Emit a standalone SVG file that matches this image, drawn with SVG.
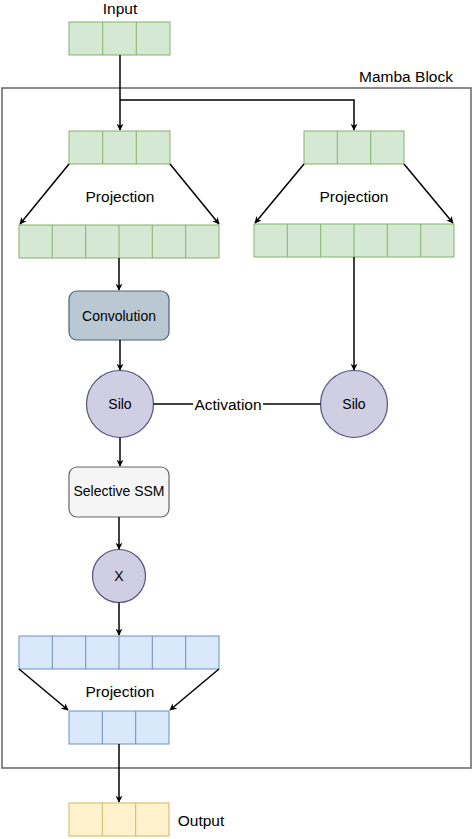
<svg xmlns="http://www.w3.org/2000/svg" width="474" height="839" viewBox="0 0 474 839">
<style>
text{font-family:"Liberation Sans",Arial,sans-serif;fill:#000;text-anchor:middle}
.lbl{font-size:15.5px}
.in{font-size:14px}
.g{fill:#d5e8d4;stroke:#82b366;stroke-width:1}
.b{fill:#dae8fc;stroke:#6c8ebf;stroke-width:1}
.y{fill:#fff2cc;stroke:#d6b656;stroke-width:1}
.c{stroke:#000;stroke-width:1.5;fill:none}
.circ{fill:#d0cee2;stroke:#56517e;stroke-width:1.2}
</style>
<defs>
<marker id="ah" viewBox="0 0 10 10" refX="9" refY="5" markerWidth="7" markerHeight="7" orient="auto" markerUnits="userSpaceOnUse">
<path d="M0,0 L10,5 L0,10 L3,5 Z" fill="#000"/>
</marker>
</defs>
<rect id="mamba-block" x="2" y="88" width="469" height="680" fill="none" stroke="#666" stroke-width="1.5"/>
<text class="lbl" x="406" y="82">Mamba Block</text>
<g id="input">
<rect class="g" x="69" y="22" width="101" height="33"/>
<line x1="102.7" y1="22" x2="102.7" y2="55" stroke="#82b366"/>
<line x1="136.3" y1="22" x2="136.3" y2="55" stroke="#82b366"/>
<text class="lbl" x="120" y="14">Input</text>
</g>
<g id="proj-left-in">
<rect class="g" x="69" y="131" width="101" height="33"/>
<line x1="102.7" y1="131" x2="102.7" y2="164" stroke="#82b366"/>
<line x1="136.3" y1="131" x2="136.3" y2="164" stroke="#82b366"/>
</g>
<g id="proj-right-in">
<rect class="g" x="304" y="131" width="100" height="33"/>
<line x1="337.3" y1="131" x2="337.3" y2="164" stroke="#82b366"/>
<line x1="370.7" y1="131" x2="370.7" y2="164" stroke="#82b366"/>
</g>
<g id="proj-left-out">
<rect class="g" x="19" y="225" width="200" height="33"/>
<path d="M52.3,225V258M85.7,225V258M119,225V258M152.3,225V258M185.7,225V258" stroke="#82b366"/>
</g>
<g id="proj-right-out">
<rect class="g" x="254" y="224" width="200" height="33"/>
<path d="M287.3,224V257M320.7,224V257M354,224V257M387.3,224V257M420.7,224V257" stroke="#82b366"/>
</g>
<g id="convolution">
<rect x="69" y="291" width="100" height="49" rx="8" fill="#bac8d3" stroke="#4f6375" stroke-width="1.2"/>
<text class="in" x="119" y="321">Convolution</text>
</g>
<g id="silo-left">
<circle class="circ" cx="120" cy="404" r="33.5"/>
<text class="in" x="120" y="409">Silo</text>
</g>
<g id="silo-right">
<circle class="circ" cx="354" cy="404" r="33.5"/>
<text class="in" x="354" y="409">Silo</text>
</g>
<g id="selective-ssm">
<rect x="69" y="467" width="100" height="50" rx="8" fill="#f5f5f5" stroke="#666" stroke-width="1.2"/>
<text class="in" x="119" y="496">Selective SSM</text>
</g>
<g id="multiply">
<circle class="circ" cx="119" cy="576" r="26.5"/>
<text class="in" x="119" y="581">X</text>
</g>
<g id="proj-bottom-in">
<rect class="b" x="19" y="636" width="200" height="33"/>
<path d="M52.3,636V669M85.7,636V669M119,636V669M152.3,636V669M185.7,636V669" stroke="#6c8ebf"/>
</g>
<g id="proj-bottom-out">
<rect class="b" x="69" y="711" width="100" height="33"/>
<path d="M102.3,711V744M135.7,711V744" stroke="#6c8ebf"/>
</g>
<g id="output">
<rect class="y" x="69" y="803" width="100" height="33"/>
<path d="M102.3,803V836M135.7,803V836" stroke="#d6b656"/>
<text class="lbl" x="201" y="826">Output</text>
</g>
<g id="connectors">
<path class="c" d="M120,55V130" marker-end="url(#ah)"/>
<path class="c" d="M120,100H354V130" marker-end="url(#ah)"/>
<path class="c" d="M69,164L20,224" marker-end="url(#ah)"/>
<path class="c" d="M170,164L219,224" marker-end="url(#ah)"/>
<path class="c" d="M304,164L255,223" marker-end="url(#ah)"/>
<path class="c" d="M404,164L453,223" marker-end="url(#ah)"/>
<path class="c" d="M119,258V290" marker-end="url(#ah)"/>
<path class="c" d="M354,257V370" marker-end="url(#ah)"/>
<path class="c" d="M120,340V370" marker-end="url(#ah)"/>
<path class="c" d="M153.5,404H320.5"/>
<path class="c" d="M120,437.5V466" marker-end="url(#ah)"/>
<path class="c" d="M119,517V549" marker-end="url(#ah)"/>
<path class="c" d="M119,602.5V635" marker-end="url(#ah)"/>
<path class="c" d="M19,669L68,710" marker-end="url(#ah)"/>
<path class="c" d="M219,669L170,710" marker-end="url(#ah)"/>
<path class="c" d="M119,744V802" marker-end="url(#ah)"/>
<rect x="193" y="395" width="70" height="18" fill="#fff"/>
<text class="lbl" x="228" y="409.5">Activation</text>
<text class="lbl" x="120" y="202">Projection</text>
<text class="lbl" x="354" y="202">Projection</text>
<text class="lbl" x="120" y="697">Projection</text>
</g>
</svg>
